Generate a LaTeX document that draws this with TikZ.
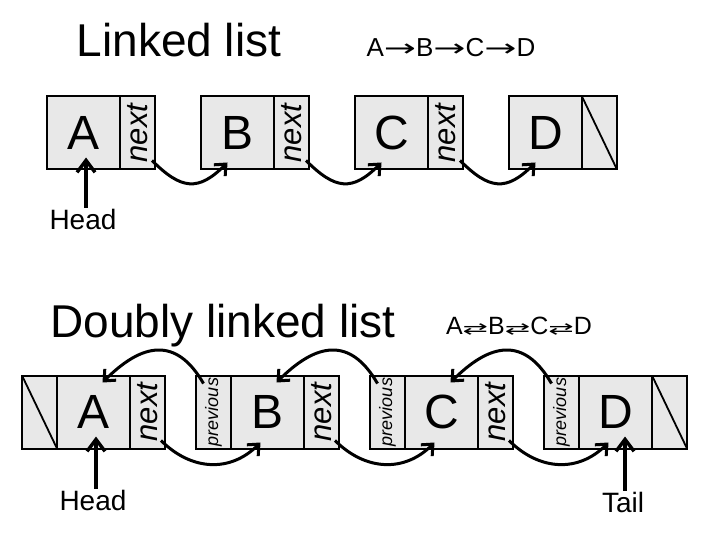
\documentclass[tikz,border=0pt]{standalone}
\usepackage{fontspec}
\setmainfont{Liberation Sans}
\newfontfamily\symfont{DejaVu Sans}
\usetikzlibrary{positioning,arrows.meta}
\definecolor{cellgray}{RGB}{232,232,232}
\tikzset{
title/.style={font=\fontsize{46}{50}\selectfont, inner sep=0pt},
seq/.style={font=\fontsize{26}{28}\selectfont, inner sep=0pt},
caption/.style={font=\fontsize{28}{30}\selectfont, inner sep=1pt},
cell/.style={draw, fill=cellgray, line width=2pt, inner sep=0pt, outer sep=0pt, minimum height=73pt},
data/.style={cell, minimum width=73pt, font=\fontsize{48}{48}\selectfont},
ptr/.style={cell, minimum width=35pt, font=\itshape\fontsize{31}{31}\selectfont},
prev/.style={ptr, font=\itshape\fontsize{18}{18}\selectfont},
link/.style={-{Straight Barb[length=9pt,width=16pt]}, line width=3pt, looseness=1.4},
pointer/.style={-{Straight Barb[length=12pt,width=18pt]}, line width=3.4pt}
}
\newcommand{\turned}[1]{\rotatebox{90}{#1}}
\newcommand{\nil}[1]{\draw[line width=1.8pt] (#1.north west) -- (#1.south east);}
\newcommand{\sgl}{\scalebox{1.6}[1]{\symfont\fontsize{24}{24}\selectfont →}}
\newcommand{\dbl}{\scalebox{1.9}[1]{\symfont\fontsize{16}{16}\selectfont ⇄}}

\begin{document}
\begin{tikzpicture}[x=1pt, y=-1pt]
	\fill[white] (0,0) rectangle (720,540);

	% singly linked
	\node[title, anchor=base] (stitle) at (179,57) {Linked list};
	\node[seq, anchor=base] (sseq) at (451,57) {A\sgl B\sgl C\sgl D};

	\node[data] (sA) at (83.5,133) {A};
	\node[ptr, right=0pt of sA] (sAn) {\turned{next}};
	\node[data] (sB) at (237.5,133) {B};
	\node[ptr, right=0pt of sB] (sBn) {\turned{next}};
	\node[data] (sC) at (391.5,133) {C};
	\node[ptr, right=0pt of sC] (sCn) {\turned{next}};
	\node[data] (sD) at (545.5,133) {D};
	\node[ptr, right=0pt of sD] (sDn) {};
	\nil{sDn}

	\draw[link] ([shift={(-3pt,9pt)}]sAn.south east) to[out=-45,in=-135] ([shift={(-10pt,7pt)}]sB.south);
	\draw[link] ([shift={(-3pt,9pt)}]sBn.south east) to[out=-45,in=-135] ([shift={(-10pt,7pt)}]sC.south);
	\draw[link] ([shift={(-3pt,9pt)}]sCn.south east) to[out=-45,in=-135] ([shift={(-10pt,7pt)}]sD.south);

	\node[caption] (shead) at (83,219) {Head};
	\draw[pointer] ([xshift=3pt]shead.north) -- ([xshift=2.5pt,yshift=12pt]sA.south);

	% doubly linked
	\node[title, anchor=base, font=\fontsize{46}{50}\selectfont] (dtitle) at (223,337) {Doubly linked list};
	\node[seq, anchor=base, font=\fontsize{25}{28}\selectfont] (dseq) at (519,334) {A\dbl B\dbl C\dbl D};

	\node[data] (dA) at (93.5,412) {A};
	\node[ptr, left=0pt of dA] (dAp) {};
	\nil{dAp}
	\node[ptr, right=0pt of dA] (dAn) {\turned{next}};
	\node[data] (dB) at (267.5,412) {B};
	\node[prev, left=0pt of dB] (dBp) {\turned{previous}};
	\node[ptr, right=0pt of dB] (dBn) {\turned{next}};
	\node[data] (dC) at (441.5,412) {C};
	\node[prev, left=0pt of dC] (dCp) {\turned{previous}};
	\node[ptr, right=0pt of dC] (dCn) {\turned{next}};
	\node[data] (dD) at (615.5,412) {D};
	\node[prev, left=0pt of dD] (dDp) {\turned{previous}};
	\node[ptr, right=0pt of dD] (dDn) {};
	\nil{dDn}

	\draw[link, looseness=1.1] ([shift={(-4pt,8pt)}]dAn.south east) to[out=-45,in=-135] ([shift={(-7pt,6pt)}]dB.south);
	\draw[link, looseness=1.1] ([shift={(-4pt,8pt)}]dBn.south east) to[out=-45,in=-135] ([shift={(-7pt,6pt)}]dC.south);
	\draw[link, looseness=1.1] ([shift={(-4pt,8pt)}]dCn.south east) to[out=-45,in=-135] ([shift={(-7pt,6pt)}]dD.south);

	\draw[link] ([shift={(-10pt,-8pt)}]dBp.north) to[out=120,in=45] ([shift={(9pt,-7pt)}]dA.north);
	\draw[link] ([shift={(-10pt,-8pt)}]dCp.north) to[out=120,in=45] ([shift={(9pt,-7pt)}]dB.north);
	\draw[link] ([shift={(-10pt,-8pt)}]dDp.north) to[out=120,in=45] ([shift={(9pt,-7pt)}]dC.north);

	\node[caption] (dhead) at (93,500) {Head};
	\draw[pointer] ([xshift=3pt]dhead.north) -- ([xshift=2.5pt,yshift=12pt]dA.south);
	\node[caption] (dtail) at (623,502) {Tail};
	\draw[pointer] ([xshift=2pt]dtail.north) -- ([xshift=9.5pt,yshift=12pt]dD.south);
\end{tikzpicture}
\end{document}
